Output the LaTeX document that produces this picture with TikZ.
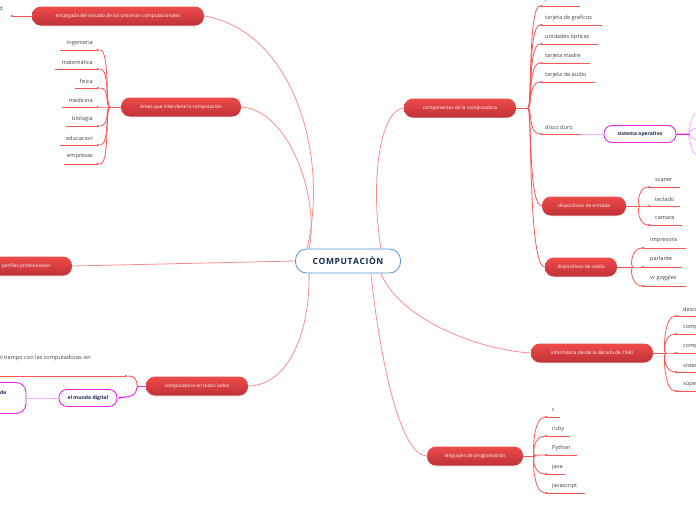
\documentclass[tikz,border=0pt]{standalone}
\usepackage{fontspec}
\setmainfont{Open Sans}
\usetikzlibrary{arrows.meta,shadows}
\definecolor{rl}{RGB}{250,85,85}
\definecolor{rlight}{RGB}{250,140,140}
\definecolor{mg}{RGB}{230,40,230}
\definecolor{mgl}{RGB}{245,170,245}
\definecolor{navy}{RGB}{20,40,80}
\definecolor{bblue}{RGB}{80,150,210}
\tikzset{
  pill/.style={rounded corners=9pt,top color={rgb,255:red,240;green,75;blue,75},bottom color={rgb,255:red,190;green,50;blue,55},draw=none,text=white,font=\fontsize{4.8}{5}\selectfont,minimum height=19pt,inner xsep=8pt,drop shadow={opacity=0.15,shadow xshift=0pt,shadow yshift=-1pt}},
  mag/.style={rounded corners=8pt,draw=mg,line width=0.9pt,fill=white,text=navy,font=\fontsize{5}{6}\selectfont\bfseries,minimum height=17pt},
  leaf/.style={font=\fontsize{5.6}{6}\selectfont,text=black!75,inner sep=0pt},
  br/.style={draw=rl,line width=0.8pt},
  lk/.style={draw=rlight,line width=0.8pt},
  la/.style={draw=rl,line width=0.9pt,-{Latex[length=3pt,width=2.6pt]}},
}
\begin{document}
\begin{tikzpicture}[x=1pt,y=-1pt]
\useasboundingbox (0,0) rectangle (696,520);
\begin{scope}
\clip (0,0) rectangle (696,520);
% central
\node[draw=bblue,line width=0.8pt,rounded corners=11pt,fill=white,minimum width=105pt,minimum height=24pt,text=navy,font=\fontsize{8.5}{9}\selectfont\bfseries] (c) at (348,261) {C\kern0.6pt O\kern0.6pt M\kern0.6pt P\kern0.6pt U\kern0.6pt T\kern0.6pt A\kern0.6pt C\kern0.6pt I\kern0.6pt Ò\kern0.6pt N};
% main branches
\node[pill,minimum width=172pt] (enc) at (118,16) {encargada del estudio de los procesos computacionales};
\node[pill,minimum width=120pt] (are) at (181,107) {Áreas que interviene la computación};
\node[pill,minimum width=110pt] (per) at (17,266) {};
\node[font=\fontsize{4.8}{5}\selectfont,text=white,anchor=west,inner sep=0pt] (pert) at (2,266) {perfiles profesionales};
\node[pill,minimum width=102pt] (tod) at (197,386) {computadora en todos lados};
\node[pill,minimum width=112pt] (com) at (460,108) {componentes de la computadora};
\node[pill,minimum width=84pt] (ent) at (584,206) {dispositivos de entrada};
\node[pill,minimum width=72pt] (sal) at (581,267) {dispositivos de salida};
\node[pill,minimum width=122pt] (inf) at (592,353) {informática desde la década de 1940};
\node[pill,minimum width=96pt] (len) at (475,456) {lenguajes de programación};
\node[mag,minimum width=72pt] (so) at (640,134) {sistema operativo};
\node[mag,minimum width=58pt] (md) at (88,398) {el mundo digital};
\node[mag,minimum width=60pt,minimum height=31pt,rounded corners=10pt] (de) at (-4,398) {};
\node[leaf,text=navy,font=\fontsize{5}{6}\selectfont\bfseries,anchor=west] at (0,393) {de};
% central links
\draw[lk] (c.north west) ++(12,0) .. controls (330,150) and (290,30) .. (enc.east);
\draw[lk] (c.north west) ++(14,0) .. controls (320,200) and (290,110) .. (are.east);
\draw[lk] (c.west) -- (per.east);
\draw[lk] (c.south west) ++(14,0) .. controls (310,330) and (290,385) .. (tod.east);
\draw[lk] (c.north east) ++(-20,0) .. controls (370,180) and (380,110) .. (com.west);
\draw[lk] (c.south east) ++(-20,0) .. controls (400,320) and (480,350) .. (inf.west);
\draw[lk] (c.south east) ++(-30,0) .. controls (380,360) and (400,455) .. (len.west);
% encargada leaf
\draw[la] (enc.west) -- (10,16);
\node[leaf,anchor=east] at (3,8) {realidad};
% areas leaves
\draw[br] (are.west) -- (110,107);
\foreach \t/\y/\s in {ingenieria/50/60,matemática/69/55,física/88/75,medicina/107/62,biologia/126/66,educacion/145/60,empresas/164/64}{
  \draw[br] (110,107) .. controls (105,107) and (110,\y) .. (100,\y);
  \draw[la] (\s,\y) -- (100,\y);
  \node[leaf,anchor=east] at (93,\y-7) {\t};
}
% componentes
\draw[br] (com.east) -- (528,108);
\foreach \t/\y/\e in {procesador/6/580,tarjeta de graficos/25/602,unidades ópticas/44/598,tarjeta madre/63/590,tarjeta de audio/82/595,disco duro/134/580}{
  \draw[br] (528,108) .. controls (532,108) and (528,\y) .. (540,\y);
  \draw[la] (\e,\y) -- (539,\y);
  \node[leaf,anchor=west] at (545,\y-7) {\t};
}
\draw[br] (528,108) .. controls (532,108) and (528,206) .. (ent.west);
\draw[br] (528,108) .. controls (532,108) and (528,267) .. (sal.west);
\draw[mgl,line width=0.9pt] (580,134) -- (so.west);
\foreach \y in {112,128,140,156}{
  \draw[mgl,line width=0.8pt] (so.east) -- (686,134) .. controls (692,134) and (688,\y) .. (700,\y);}
\draw[mg,line width=0.9pt] (so.east) -- (690,134);
% entrada
\draw[br] (ent.east) -- (640,206);
\foreach \t/\y/\e in {scaner/187/680,teclado/206/680,camara/225/682}{
  \draw[br] (640,206) .. controls (637,206) and (638,\y) .. (648,\y);
  \draw[la] (\e,\y) -- (647,\y);
  \node[leaf,anchor=west] at (655,\y-7) {\t};
}
% salida
\draw[br] (sal.east) -- (633,267);
\foreach \t/\y/\e in {impresora/248/686,parlante/267/682,vr goggles/286/686}{
  \draw[br] (633,267) .. controls (630,267) and (631,\y) .. (642,\y);
  \draw[la] (\e,\y) -- (641,\y);
  \node[leaf,anchor=west] at (650,\y-7.5) {\t};
}
% informatica
\draw[br] (inf.east) -- (666,353);
\foreach \t/\y in {descubrimientos/316,computadoras/334,computación/353,sistemas/372,súper computadoras/391}{
  \draw[br] (666,353) .. controls (663,353) and (664,\y) .. (675,\y);
  \draw[la] (700,\y) -- (674,\y);
  \node[leaf,anchor=west] at (683,\y-7) {\t};
}
% lenguajes
\draw[br] (len.east) -- (535,456);
\foreach \t/\y/\e in {c/417/560,ruby/436/570,Python/455/577,java/474/565,javascript/493/585}{
  \draw[br] (535,456) .. controls (532,456) and (533,\y) .. (545,\y);
  \draw[la] (\e,\y) -- (544,\y);
  \node[leaf,anchor=west] at (552,\y-7) {\t};
}
% todos lados
\draw[mg,line width=1pt] (tod.west) -- (138,386);
\draw[br] (138,386) .. controls (135,386) and (140,376) .. (128,376);
\draw[la] (0,376) -- (128,376);
\node[leaf,anchor=west] at (-2,358) {el tiempo con las computadoras sin};
\draw[mg,line width=0.9pt] (138,386) .. controls (135,386) and (140,397) .. (124,397);
\draw[mg,line width=0.9pt,-{Latex[length=3pt,width=2.6pt]}] (126,397) -- (md.east);
\draw[mgl,line width=0.9pt] (md.west) -- (de.east);
\end{scope}
\end{tikzpicture}
\end{document}
